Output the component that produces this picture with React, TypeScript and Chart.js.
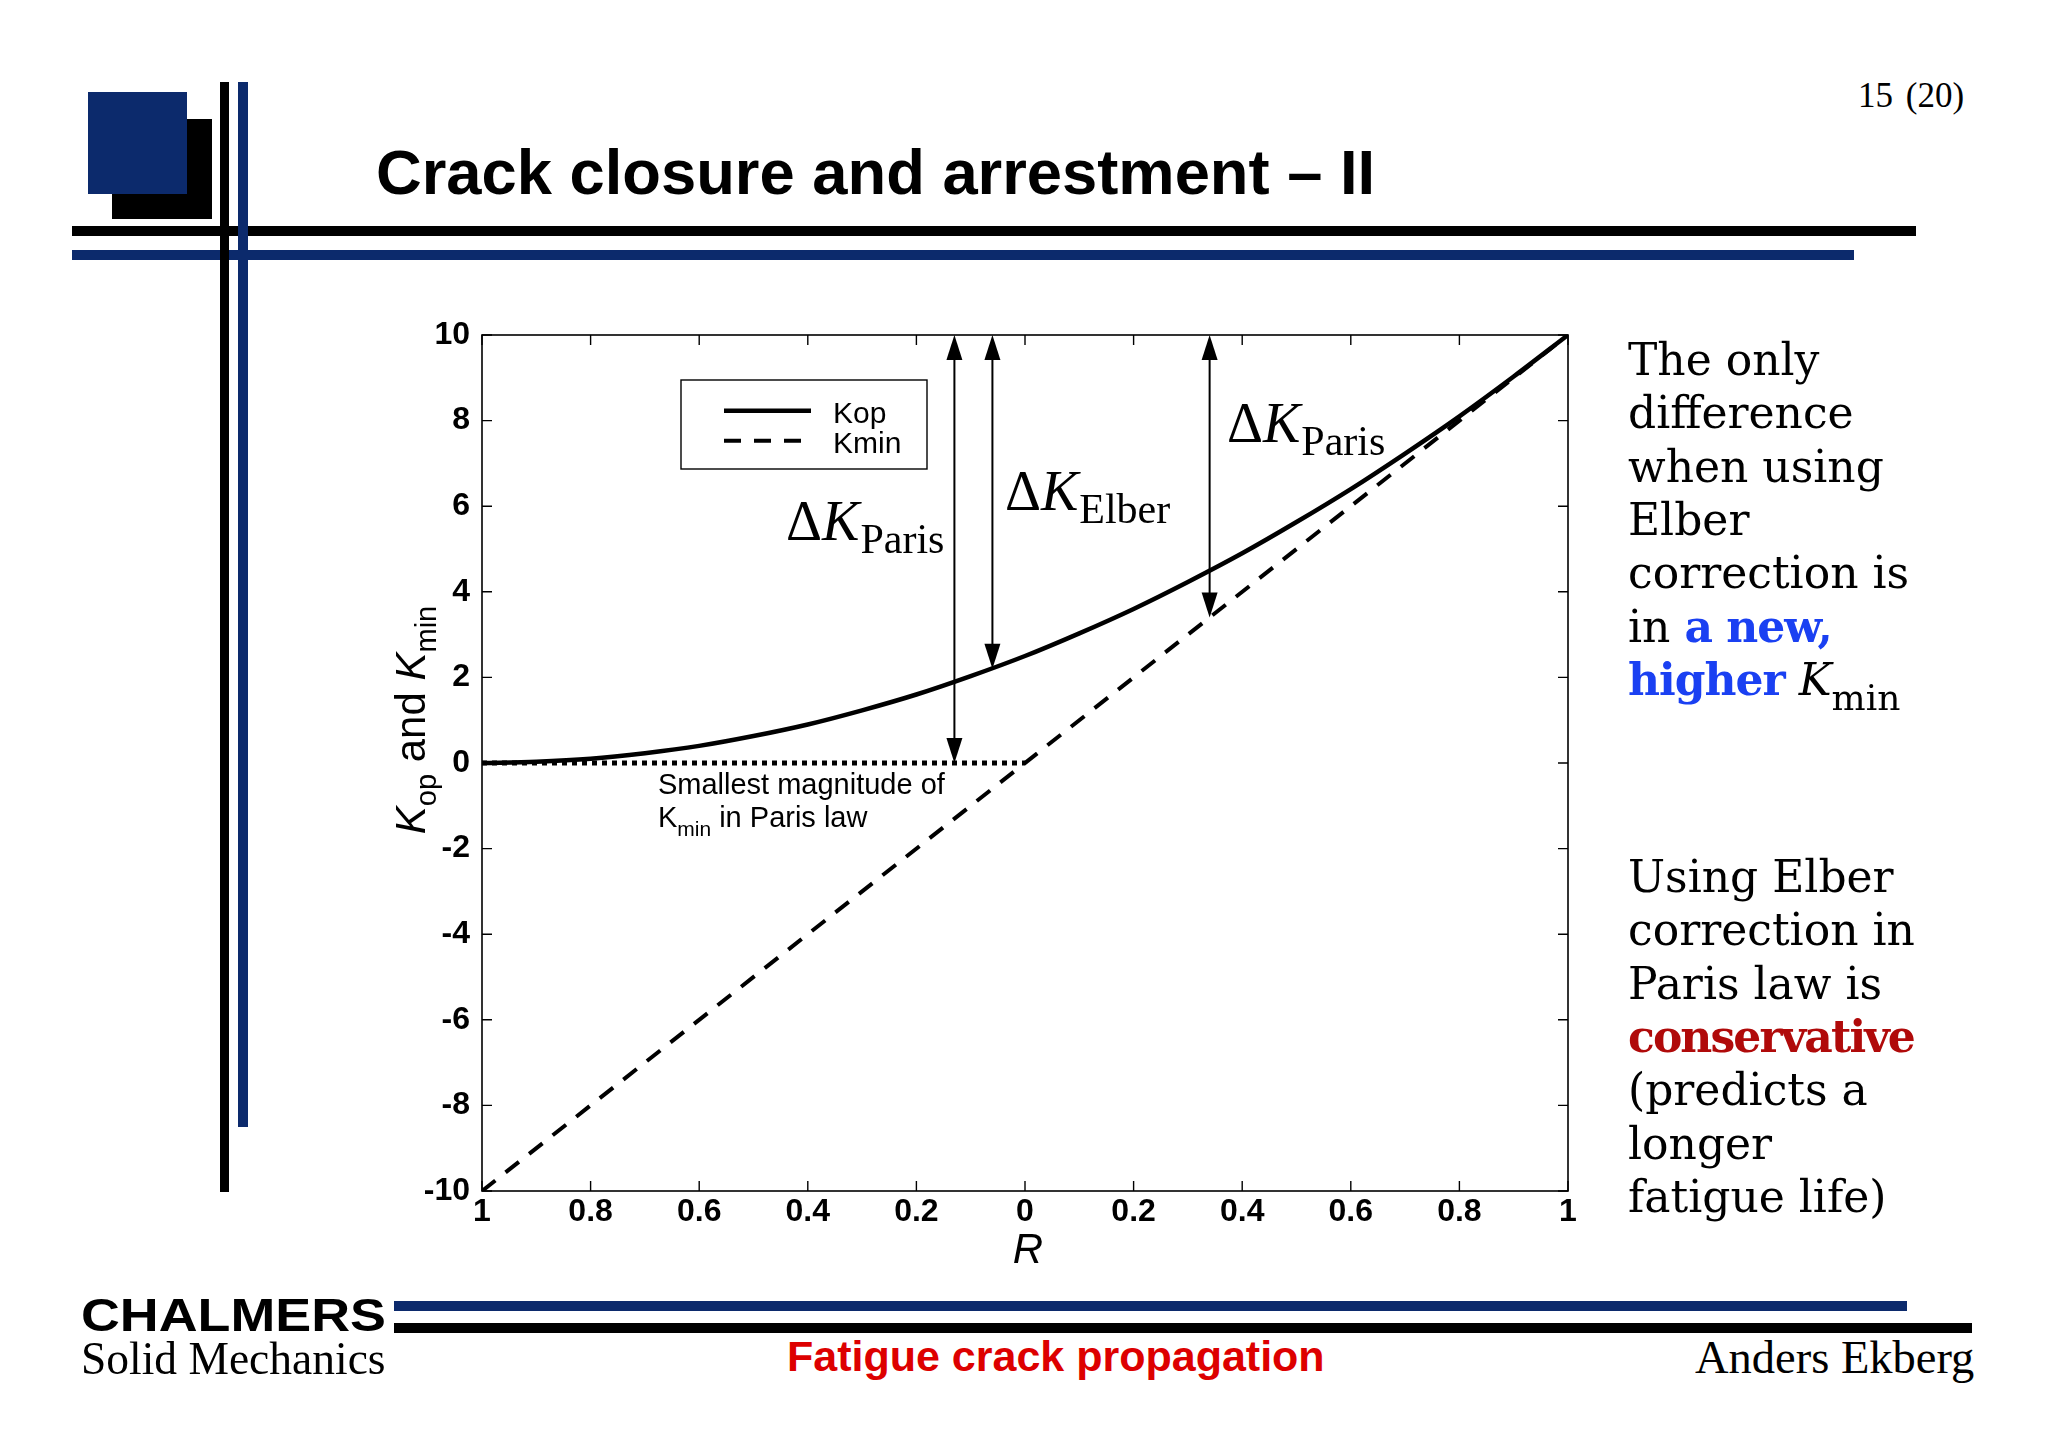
import React, { useEffect, useRef } from 'react';
import { Chart, registerables } from 'chart.js';

Chart.register(...registerables);

// ---------- data ----------
const rValues = [-1, -0.9, -0.8, -0.7, -0.6, -0.5, -0.4, -0.3, -0.2, -0.1, 0, 0.1, 0.2, 0.3, 0.4, 0.5, 0.6, 0.7, 0.8, 0.9, 1];
const kopValues = [0, 0.03, 0.1, 0.23, 0.4, 0.63, 0.9, 1.23, 1.6, 2.03, 2.5, 3.03, 3.6, 4.23, 4.9, 5.63, 6.4, 7.23, 8.1, 9.03, 10];
const kminR = [-1, 1];
const kminValues = [-10, 10];
const parisMinR = [-1, 0];
const parisMinValues = [0, 0];

const xTickLabels = ['1', '0.8', '0.6', '0.4', '0.2', '0', '0.2', '0.4', '0.6', '0.8', '1'];
const yTickLabels = ['-10', '-8', '-6', '-4', '-2', '0', '2', '4', '6', '8', '10'];

const seriesLabels = ['Kop', 'Kmin', 'Smallest magnitude of Kmin in Paris law'];
const legendLabels = ['Kop', 'Kmin'];

// double-headed arrows (R, top K, bottom K)
const arrowR = [-0.13, -0.06, 0.34];
const arrowTopK = [10, 10, 10];
const arrowBottomK = [0, 2.2, 3.4];

// ΔK annotations (anchor in data units)
const deltaSubs = ['Paris', 'Elber', 'Paris'];
const deltaR = [-0.44, -0.037, 0.372];
const deltaK = [5.21, 5.91, 7.5];

// note text
const noteR = -0.676;
const noteK = [-0.72, -1.5];

const SANS = '"Liberation Sans", Arial, Helvetica, sans-serif';
const SERIF = '"Liberation Serif", "Times New Roman", serif';
const NAVY = '#0c2a6c';

const overlayPlugin = {
  id: 'overlay',
  afterDatasetsDraw(chart: any) {
    const ctx = chart.ctx;
    const xs = chart.scales.x;
    const ys = chart.scales.y;
    const { left, right, top, bottom } = chart.chartArea;
    ctx.save();

    // frame
    ctx.strokeStyle = '#000';
    ctx.lineWidth = 1.6;
    ctx.setLineDash([]);
    ctx.strokeRect(left, top, right - left, bottom - top);

    // inward ticks on all four sides
    ctx.lineWidth = 1.4;
    ctx.beginPath();
    xs.ticks.forEach((t: any) => {
      const px = xs.getPixelForValue(t.value);
      ctx.moveTo(px, bottom);
      ctx.lineTo(px, bottom - 10);
      ctx.moveTo(px, top);
      ctx.lineTo(px, top + 10);
    });
    ys.ticks.forEach((t: any) => {
      const py = ys.getPixelForValue(t.value);
      ctx.moveTo(left, py);
      ctx.lineTo(left + 10, py);
      ctx.moveTo(right, py);
      ctx.lineTo(right - 10, py);
    });
    ctx.stroke();

    // arrows
    const headLen = 25;
    const headHalf = 8;
    ctx.fillStyle = '#000';
    ctx.lineWidth = 2;
    arrowR.forEach((r, i) => {
      const px = xs.getPixelForValue(r);
      const y1 = ys.getPixelForValue(arrowTopK[i]);
      const y2 = ys.getPixelForValue(arrowBottomK[i]);
      ctx.beginPath();
      ctx.moveTo(px, y1 + headLen - 2);
      ctx.lineTo(px, y2 - headLen + 2);
      ctx.stroke();
      ctx.beginPath();
      ctx.moveTo(px, y1);
      ctx.lineTo(px - headHalf, y1 + headLen);
      ctx.lineTo(px + headHalf, y1 + headLen);
      ctx.closePath();
      ctx.fill();
      ctx.beginPath();
      ctx.moveTo(px, y2);
      ctx.lineTo(px - headHalf, y2 - headLen);
      ctx.lineTo(px + headHalf, y2 - headLen);
      ctx.closePath();
      ctx.fill();
    });

    // ΔK labels
    ctx.textBaseline = 'alphabetic';
    ctx.textAlign = 'left';
    deltaSubs.forEach((sub, i) => {
      let x = xs.getPixelForValue(deltaR[i]);
      const y = ys.getPixelForValue(deltaK[i]);
      ctx.font = `56px ${SERIF}`;
      ctx.fillText('\u0394', x, y);
      x += ctx.measureText('\u0394').width;
      ctx.font = `italic 56px ${SERIF}`;
      ctx.fillText('K', x, y);
      x += ctx.measureText('K').width + 1;
      ctx.font = `42px ${SERIF}`;
      ctx.fillText(sub, x, y + 13);
    });

    // note text
    {
      const x0 = xs.getPixelForValue(noteR);
      const yA = ys.getPixelForValue(noteK[0]);
      const yB = ys.getPixelForValue(noteK[1]);
      ctx.font = `29px ${SANS}`;
      ctx.fillText('Smallest magnitude of', x0, yA);
      let x = x0;
      ctx.fillText('K', x, yB);
      x += ctx.measureText('K').width;
      ctx.font = `21px ${SANS}`;
      ctx.fillText('min', x, yB + 9);
      x += ctx.measureText('min').width;
      ctx.font = `29px ${SANS}`;
      ctx.fillText(' in Paris law', x, yB);
    }

    // legend
    {
      const bx = left + 199;
      const by = top + 45;
      const bw = 246;
      const bh = 89;
      ctx.fillStyle = '#fff';
      ctx.fillRect(bx, by, bw, bh);
      ctx.strokeStyle = '#000';
      ctx.lineWidth = 1.4;
      ctx.setLineDash([]);
      ctx.strokeRect(bx, by, bw, bh);
      legendLabels.forEach((lab, i) => {
        const ds = chart.data.datasets.find((d: any) => d.label === lab);
        const ly = by + 30.7 + i * 30;
        ctx.beginPath();
        ctx.lineWidth = ds.borderWidth;
        ctx.setLineDash(ds.borderDash || []);
        ctx.moveTo(bx + 43, ly);
        ctx.lineTo(bx + 130, ly);
        ctx.stroke();
        ctx.setLineDash([]);
        ctx.fillStyle = '#000';
        ctx.font = `30px ${SANS}`;
        ctx.fillText(lab, bx + 152, ly + 12);
      });
    }

    // axis titles
    ctx.fillStyle = '#000';
    {
      ctx.font = `italic 42px ${SANS}`;
      ctx.textAlign = 'center';
      ctx.fillText('R', (left + right) / 2 + 3, bottom + 72);
      ctx.textAlign = 'left';
    }
    {
      const pieces = [
        { t: 'K', f: `italic 42px ${SANS}`, dy: 0 },
        { t: 'op', f: `29px ${SANS}`, dy: 11 },
        { t: ' and ', f: `42px ${SANS}`, dy: 0 },
        { t: 'K', f: `italic 42px ${SANS}`, dy: 0 },
        { t: 'min', f: `29px ${SANS}`, dy: 11 },
      ];
      let total = 0;
      const widths = pieces.map((p) => {
        ctx.font = p.f;
        const w = ctx.measureText(p.t).width;
        total += w;
        return w;
      });
      ctx.translate(left - 57, top + 385);
      ctx.rotate(-Math.PI / 2);
      let x = -total / 2;
      pieces.forEach((p, i) => {
        ctx.font = p.f;
        ctx.fillText(p.t, x, p.dy);
        x += widths[i];
      });
    }
    ctx.restore();
  },
};

function ChartCanvas() {
  const ref = useRef<HTMLCanvasElement | null>(null);
  useEffect(() => {
    if (!ref.current) return;
    const tickFont = { family: SANS, size: 32, weight: 'bold' as const };
    const chart = new Chart(ref.current, {
      type: 'line',
      data: {
        datasets: [
          {
            label: seriesLabels[0],
            data: rValues.map((r, i) => ({ x: r, y: kopValues[i] })),
            borderColor: '#000',
            borderWidth: 4.5,
            pointRadius: 0,
            cubicInterpolationMode: 'monotone',
            fill: false,
          },
          {
            label: seriesLabels[1],
            data: kminR.map((r, i) => ({ x: r, y: kminValues[i] })),
            borderColor: '#000',
            borderWidth: 4,
            borderDash: [17, 13],
            pointRadius: 0,
            fill: false,
          },
          {
            label: seriesLabels[2],
            data: parisMinR.map((r, i) => ({ x: r, y: parisMinValues[i] })),
            borderColor: '#000',
            borderWidth: 5,
            borderDash: [5, 5],
            pointRadius: 0,
            fill: false,
          },
        ],
      },
      options: {
        responsive: false,
        animation: false,
        devicePixelRatio: 1,
        events: [],
        layout: { padding: { top: 35, right: 62, bottom: 0, left: 0 } },
        plugins: { legend: { display: false }, tooltip: { enabled: false } },
        scales: {
          x: {
            type: 'linear',
            min: -1,
            max: 1,
            ticks: {
              stepSize: 0.2,
              autoSkip: false,
              maxRotation: 0,
              padding: 2,
              color: '#000',
              font: tickFont,
              callback: (_v: any, i: number) => xTickLabels[i],
            },
            grid: { display: false, drawTicks: false },
            border: { display: false },
            afterFit: (s: any) => {
              s.height = 109;
            },
          },
          y: {
            type: 'linear',
            min: -10,
            max: 10,
            ticks: {
              stepSize: 2,
              autoSkip: false,
              padding: 12,
              color: '#000',
              font: tickFont,
              callback: (_v: any, i: number) => yTickLabels[i],
            },
            grid: { display: false, drawTicks: false },
            border: { display: false },
            afterFit: (s: any) => {
              s.width = 152;
            },
          },
        },
      } as any,
      plugins: [overlayPlugin],
    });
    return () => chart.destroy();
  }, []);
  return (
    <canvas
      ref={ref}
      width={1300}
      height={1000}
      style={{ position: 'absolute', left: 330, top: 300, width: 1300, height: 1000 }}
    />
  );
}

function T(props: {
  x: number;
  baseline: number;
  size: number;
  family: string;
  weight?: any;
  italic?: boolean;
  color?: string;
  style?: any;
  children: any;
}) {
  const { x, baseline, size, family, weight, italic, color, style, children } = props;
  return (
    <div
      style={{
        position: 'absolute',
        left: x,
        top: baseline - 0.846 * size,
        fontSize: size,
        lineHeight: `${size}px`,
        fontFamily: family,
        fontWeight: weight || 'normal',
        fontStyle: italic ? 'italic' : 'normal',
        color: color || '#000',
        whiteSpace: 'nowrap',
        ...(style || {}),
      }}
    >
      {children}
    </div>
  );
}

const RSERIF = '"DejaVu Serif", serif';
const BLUE = '#1a40f2';
const DRED = '#b00a0a';

function Box(p: { l: number; t: number; w: number; h: number; c: string }) {
  return <div style={{ position: 'absolute', left: p.l, top: p.t, width: p.w, height: p.h, background: p.c }} />;
}

export default function App() {
  const boldBlue = { color: BLUE, fontWeight: 'bold', letterSpacing: '-1px' } as const;
  const kSub = (
    <>
      <span style={{ fontStyle: 'italic' }}>K</span>
      <span style={{ fontSize: 36, position: 'relative', top: 15 }}>min</span>
    </>
  );
  const block1: any[] = [
    'The only',
    'difference',
    'when using',
    'Elber',
    'correction is',
    <>
      in <span style={boldBlue}>a new,</span>
    </>,
    <>
      <span style={boldBlue}>higher</span> {kSub}
    </>,
  ];
  const block2: any[] = [
    'Using Elber',
    'correction in',
    'Paris law is',
    <span style={{ color: DRED, fontWeight: 'bold', letterSpacing: '-1.9px' }}>conservative</span>,
    '(predicts a',
    'longer',
    'fatigue life)',
  ];
  return (
    <div
      style={{
        position: 'absolute',
        left: 0,
        top: 0,
        width: 2048,
        height: 1447,
        background: '#fff',
        overflow: 'hidden',
      }}
    >
      {/* header decorations */}
      <Box l={112} t={119} w={100} h={100} c="#000" />
      <Box l={88} t={92} w={99} h={102} c={NAVY} />
      <Box l={72} t={226} w={1844} h={10} c="#000" />
      <Box l={72} t={250} w={1782} h={10} c={NAVY} />
      <Box l={220} t={82} w={9} h={1110} c="#000" />
      <Box l={238} t={82} w={10} h={1045} c={NAVY} />

      <T x={376} baseline={195} size={63.3} family={SANS} weight="bold">
        Crack closure and arrestment – II
      </T>
      <T x={1858} baseline={108} size={35} family={SERIF} style={{ wordSpacing: '4px' }}>
        15 (20)
      </T>

      <ChartCanvas />

      {block1.map((line, i) => (
        <T key={'a' + i} x={1628} baseline={375 + i * 53.4} size={44} family={RSERIF}>
          {line}
        </T>
      ))}
      {block2.map((line, i) => (
        <T key={'b' + i} x={1628} baseline={892 + i * 53.4} size={44} family={RSERIF}>
          {line}
        </T>
      ))}

      {/* footer */}
      <Box l={394} t={1301} w={1513} h={10} c={NAVY} />
      <Box l={394} t={1323} w={1578} h={10} c="#000" />
      <T
        x={81}
        baseline={1331}
        size={46}
        family={SANS}
        weight="bold"
        style={{ transform: 'scaleX(1.17)', transformOrigin: 'left center' }}
      >
        CHALMERS
      </T>
      <T x={81} baseline={1374} size={45.5} family={SERIF}>
        Solid Mechanics
      </T>
      <T x={787} baseline={1371} size={43} family={SANS} weight="bold" color="#dd0000">
        Fatigue crack propagation
      </T>
      <div style={{ position: 'absolute', left: 1695, top: 1300, width: 281, height: 100, overflow: 'hidden' }}>
        <T x={0} baseline={74} size={46.5} family={SERIF}>
          Anders Ekberg
        </T>
      </div>
    </div>
  );
}
